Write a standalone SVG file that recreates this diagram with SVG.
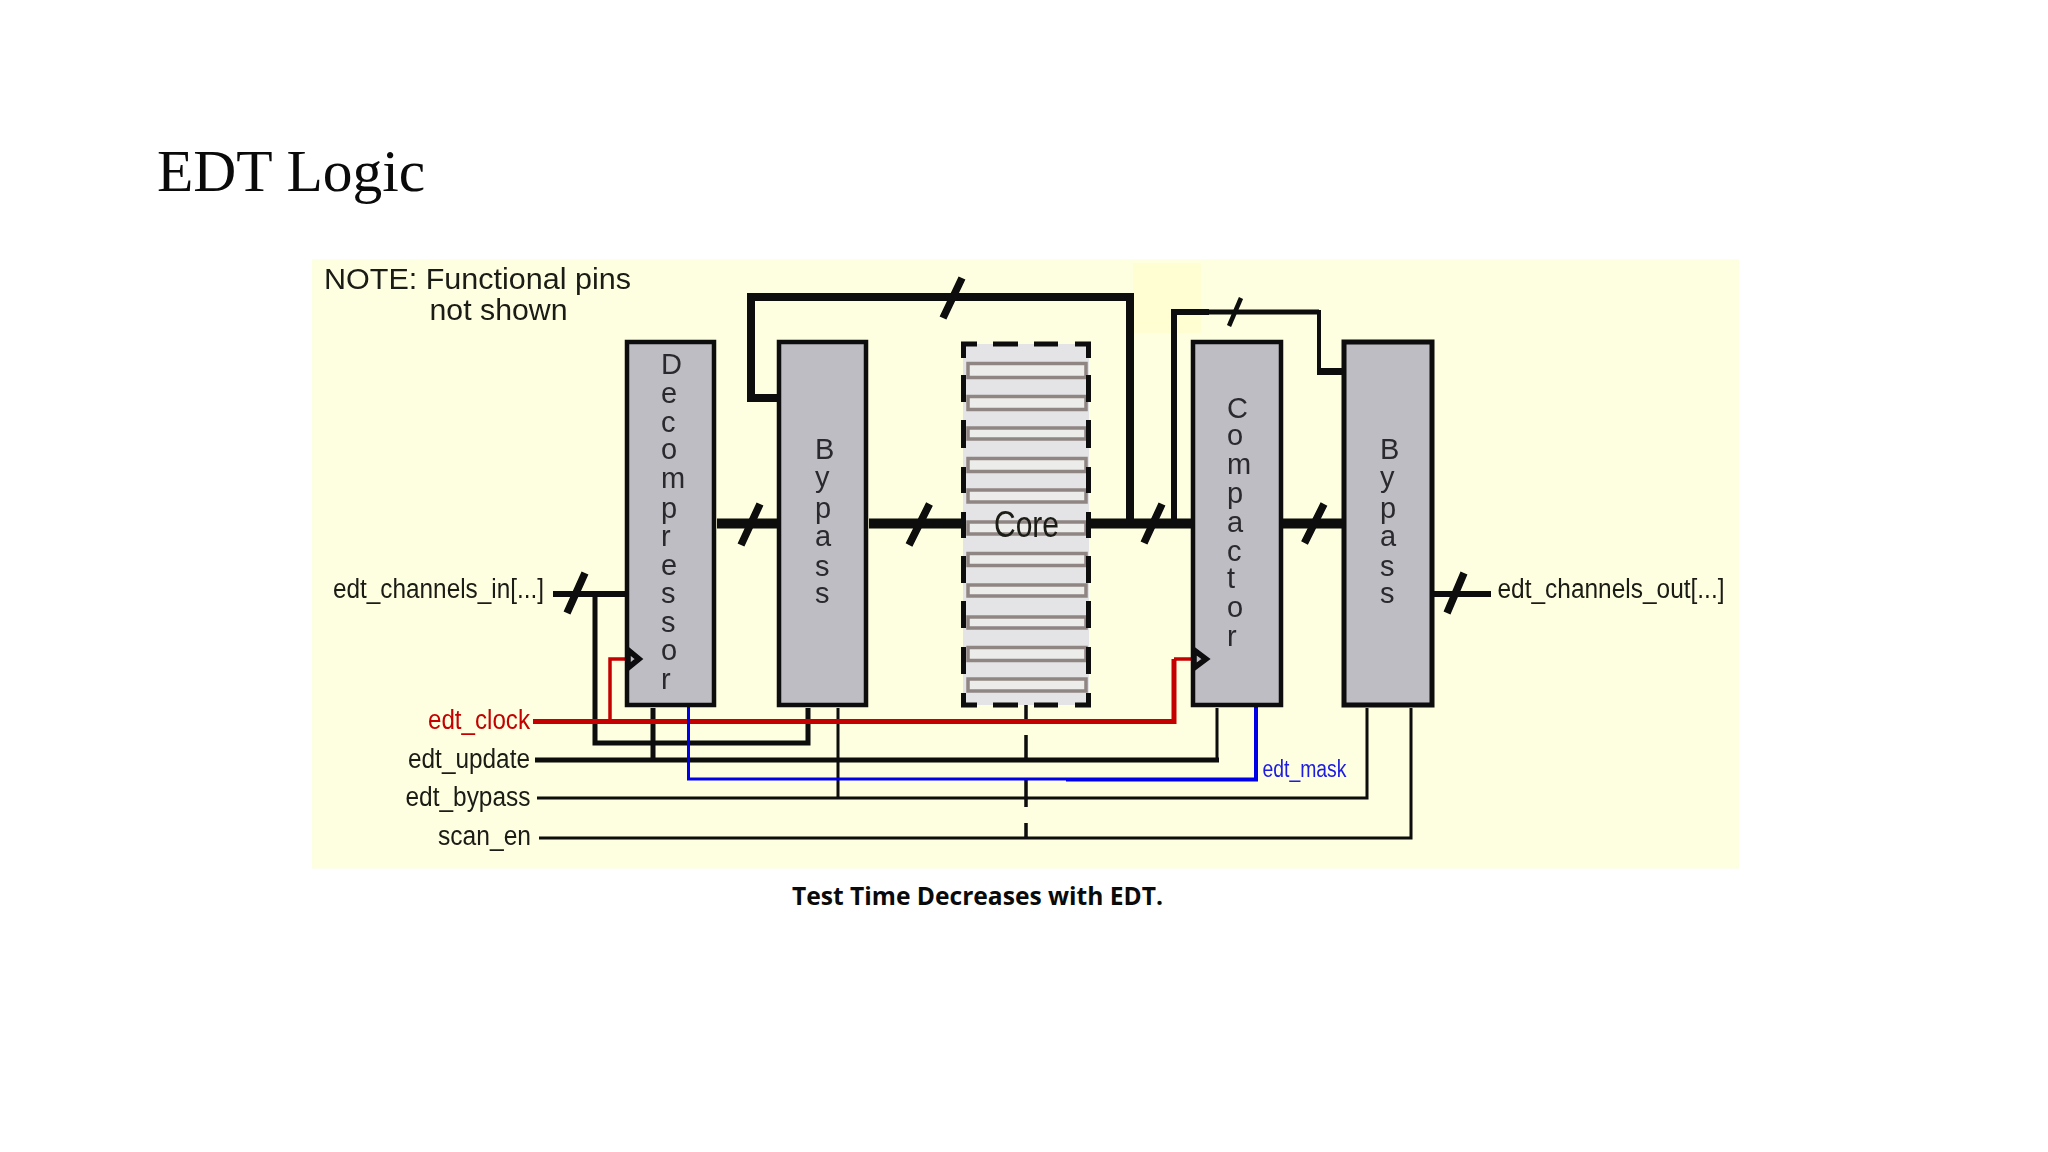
<svg xmlns="http://www.w3.org/2000/svg" width="2048" height="1152" viewBox="0 0 2048 1152">
<defs>
<style>
.w{fill:none;stroke:#0a0a0a;stroke-linejoin:miter}
.s{fill:none;stroke:#0a0a0a;stroke-width:7.5}
.r{fill:none;stroke:#c40000}
.b{fill:none;stroke:#0000e6}
.box{fill:#bebdc3;stroke:#0a0a0a;stroke-width:4.5}
.ck{fill:none;stroke:#0a0a0a;stroke-width:5.5}
.t{font-family:"Liberation Sans",Arial,sans-serif;fill:#1a1a14;font-size:27px}
.v{font-family:"Liberation Sans",Arial,sans-serif;fill:#2a2a2e;font-size:29px}
.scan{fill:#ececea;stroke:#8f8583;stroke-width:3.5}
.dash{fill:none;stroke:#0a0a0a;stroke-width:5}
</style>
<filter id="soft" x="0" y="0" width="1" height="1"><feGaussianBlur stdDeviation="0.5"/></filter>
</defs>
<rect width="2048" height="1152" fill="#ffffff"/>
<text x="157" y="191" font-family="'Liberation Serif','Times New Roman',serif" font-size="59.500" fill="#0a0a0a">EDT Logic</text>
<g filter="url(#soft)">
<rect x="312" y="259.500" width="1427" height="609" fill="#fefee0"/>
<rect x="1133" y="263" width="68" height="70" fill="#fefed2"/>
<g id="connectors">
<path class="w" stroke-width="8" d="M778 398H751V297H1130V523"/>
<path class="w" stroke-width="10" d="M717 523.500H778M869 523.500H961M1090 523.500H1192M1283 523.500H1342"/>
<path class="w" stroke-width="6" d="M1174 523V312H1209"/>
<path class="w" stroke-width="5" d="M1205 312H1319"/>
<path class="w" stroke-width="4" d="M1319 310V372"/>
<path class="w" stroke-width="7" d="M1317 371.500H1344"/>
<path class="w" stroke-width="6" d="M553 594H627M1434 594H1491"/>
<path class="w" stroke-width="5" d="M595 594V743H808V708"/>
<path class="w" stroke-width="5" d="M535 760H1219M653 708V760"/>
<path class="w" stroke-width="3" d="M1217 708V760M537 798H1367V708M838 708V798M539 838H1411V708"/>
<path class="w" stroke-width="3.500" d="M1026 703V720M1026 735V760M1026 780V807M1026 823V838"/>
<path class="r" stroke-width="5" d="M533 721.500H1174V659"/>
<path class="r" stroke-width="3.500" d="M1174 659H1193M610 721V659H627"/>
<path class="b" stroke-width="3" d="M688.500 705V779H1066"/>
<path class="b" stroke-width="4" d="M1066 779.500H1256V704"/>
<path class="s" d="M760 504L741 545M929.500 504L909 545M962 278L943 318M585 573L567 613M1162 504L1144 543M1324 504L1304.500 543M1464 573L1447 613"/>
<path class="w" stroke-width="4.500" d="M1241 298L1229 326"/>
</g>
<g id="note">
<text class="t" style="font-size:29px" x="324" y="289" textLength="307" lengthAdjust="spacingAndGlyphs">NOTE: Functional pins</text>
<text class="t" style="font-size:29px" x="429.500" y="320" textLength="138" lengthAdjust="spacingAndGlyphs">not shown</text>
</g>
<g id="labels">
<text class="t" x="333" y="598" textLength="211" lengthAdjust="spacingAndGlyphs">edt_channels_in[...]</text>
<text class="t" x="1497.500" y="598" textLength="227" lengthAdjust="spacingAndGlyphs">edt_channels_out[...]</text>
<text class="t" x="428" y="729" textLength="102" lengthAdjust="spacingAndGlyphs" style="fill:#c40000">edt_clock</text>
<text class="t" x="408" y="768" textLength="122" lengthAdjust="spacingAndGlyphs">edt_update</text>
<text class="t" x="405.500" y="806" textLength="125" lengthAdjust="spacingAndGlyphs">edt_bypass</text>
<text class="t" x="438" y="845" textLength="93" lengthAdjust="spacingAndGlyphs">scan_en</text>
<text class="t" x="1262.500" y="777" textLength="84" lengthAdjust="spacingAndGlyphs" style="fill:#1a1ae0;font-size:23px">edt_mask</text>
</g>
<g id="decompressor">
<rect class="box" x="627" y="342" width="87" height="363"/>
<text class="v"><tspan x="661" y="374">D</tspan><tspan x="661" y="403">e</tspan><tspan x="661" y="432">c</tspan><tspan x="661" y="459">o</tspan><tspan x="661" y="488">m</tspan><tspan x="661" y="518">p</tspan><tspan x="661" y="546">r</tspan><tspan x="661" y="575">e</tspan><tspan x="661" y="603">s</tspan><tspan x="661" y="632">s</tspan><tspan x="661" y="660">o</tspan><tspan x="661" y="689">r</tspan></text>
<polygon class="ck" points="628,650 639,659 628,668"/>
</g>
<g id="bypass-1">
<rect class="box" x="779" y="342" width="87" height="363"/>
<text class="v"><tspan x="815" y="459">B</tspan><tspan x="815" y="487">y</tspan><tspan x="815" y="518">p</tspan><tspan x="815" y="546">a</tspan><tspan x="815" y="576">s</tspan><tspan x="815" y="603">s</tspan></text>
</g>
<g id="core">
<rect x="963" y="344" width="126" height="361" fill="#e4e4e6"/>
<rect class="scan" x="968" y="363.500" width="118" height="14"/>
<rect class="scan" x="968" y="396.500" width="118" height="13"/>
<rect class="scan" x="968" y="428" width="118" height="11"/>
<rect class="scan" x="968" y="458.500" width="118" height="13"/>
<rect class="scan" x="968" y="490" width="118" height="12"/>
<rect class="scan" x="968" y="522" width="118" height="12"/>
<rect class="scan" x="968" y="553.500" width="118" height="12"/>
<rect class="scan" x="968" y="585" width="118" height="11"/>
<rect class="scan" x="968" y="617" width="118" height="11"/>
<rect class="scan" x="968" y="647.500" width="118" height="13"/>
<rect class="scan" x="968" y="679" width="118" height="12"/>
<path class="dash" d="M963.500 358V344H977M993 344H1018M1034 344H1058M1075 344H1088.500V358M963.500 375V402M963.500 420V448M963.500 467V493M963.500 512V538M963.500 556V583M963.500 601V628M963.500 647V674M963.500 693V705H977M993 705H1018M1034 705H1058M1075 705H1088.500V693M1088.500 375V402M1088.500 420V448M1088.500 467V493M1088.500 512V538M1088.500 556V583M1088.500 601V628M1088.500 647V674"/>
<text class="t" style="font-size:36px" x="994" y="537" textLength="65" lengthAdjust="spacingAndGlyphs">Core</text>
</g>
<g id="compactor">
<rect class="box" x="1193" y="342" width="88" height="363"/>
<text class="v"><tspan x="1227" y="418">C</tspan><tspan x="1227" y="445">o</tspan><tspan x="1227" y="474">m</tspan><tspan x="1227" y="503">p</tspan><tspan x="1227" y="532">a</tspan><tspan x="1227" y="561">c</tspan><tspan x="1227" y="588">t</tspan><tspan x="1227" y="617">o</tspan><tspan x="1227" y="646">r</tspan></text>
<polygon class="ck" points="1194,650 1206,659 1194,668"/>
</g>
<g id="bypass-2">
<rect class="box" x="1344" y="342" width="88" height="363" style="stroke-width:5"/>
<text class="v"><tspan x="1380" y="459">B</tspan><tspan x="1380" y="487">y</tspan><tspan x="1380" y="518">p</tspan><tspan x="1380" y="546">a</tspan><tspan x="1380" y="576">s</tspan><tspan x="1380" y="603">s</tspan></text>
</g>
</g>
<text x="792" y="905" font-family="'Open Sans','Liberation Sans',sans-serif" font-weight="700" font-size="25" fill="#0a0a0a" textLength="371" lengthAdjust="spacingAndGlyphs">Test Time Decreases with EDT.</text>
</svg>
